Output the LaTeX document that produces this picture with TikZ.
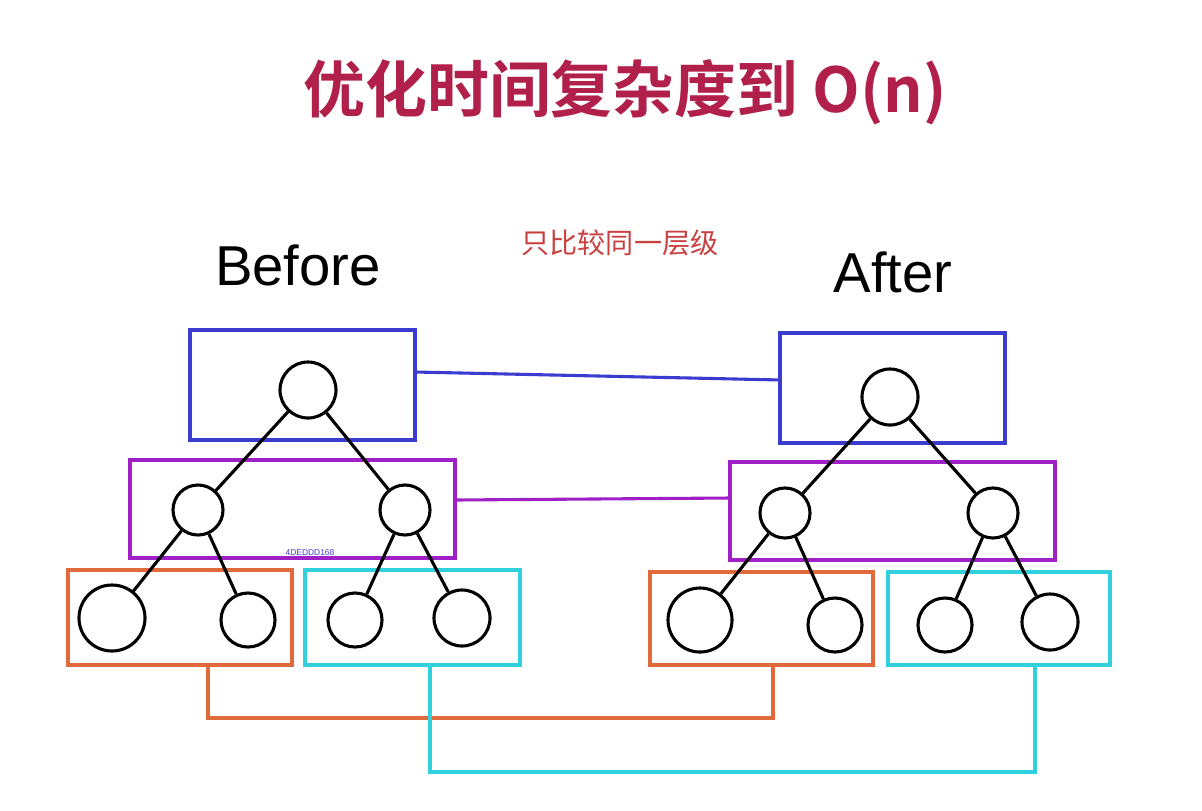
\documentclass[tikz,border=0pt]{standalone}
\usepackage{fontspec}
\setmainfont{Liberation Sans}
\newfontfamily\cjk{Noto Sans CJK SC}
\newfontfamily\cjkb{Noto Sans CJK SC Bold}
\begin{document}
\begin{tikzpicture}[x=0.025cm,y=-0.025cm,
  bx/.style={draw,line width=2.2pt,inner sep=0pt},
  cn/.style={draw,line width=2.2pt,circle,inner sep=0pt,minimum size=#1*0.05cm},
  ed/.style={line width=2.2pt},
  ln/.style={line width=2.2pt}]
\useasboundingbox (0,0) rectangle (1202,810);
\definecolor{cb}{HTML}{3B3BD0}\definecolor{cp}{HTML}{A020C8}
\definecolor{co}{HTML}{E06A3A}\definecolor{cc}{HTML}{30D0DC}
\node (title) at (625,92) {\cjkb\fontsize{44}{50}\selectfont\color[HTML]{B0204A}优化时间复杂度到 O(n)};
\node (sub) at (620,243) {\cjk\fontsize{20}{24}\selectfont\color[HTML]{C84040}只比较同一层级};
\node (before) at (298,265) {\fontsize{40}{44}\selectfont Before};
\node (after) at (893,272) {\fontsize{40}{44}\selectfont After};
\node (tag) at (310,553) {\fontsize{6}{7}\selectfont\color{cb}4DEDDD168};
% boxes
\draw[bx,cb] (190,330) rectangle (415,440);
\draw[bx,cp] (130,460) rectangle (455,558);
\draw[bx,co] (68,570) rectangle (292,665);
\draw[bx,cc] (305,570) rectangle (520,665);
\draw[bx,cb] (780,333) rectangle (1005,443);
\draw[bx,cp] (730,462) rectangle (1055,560);
\draw[bx,co] (650,572) rectangle (873,665);
\draw[bx,cc] (888,572) rectangle (1110,665);
\coordinate (b1) at (415,372); \coordinate (b2) at (781,380);
\coordinate (p1) at (455,500); \coordinate (p2) at (731,498);
\draw[ln,cb] (b1) -- (b2);
\draw[ln,cp] (p1) -- (p2);
\coordinate (o1) at (208,665); \coordinate (o2) at (773,665);
\coordinate (c1) at (430,665); \coordinate (c2) at (1035,665);
\draw[ln,co] (o1) |- (490,718) -| (o2);
\draw[ln,cc] (c1) |- (700,772) -| (c2);
% left tree
\node[cn=28] (r) at (308,390) {};
\node[cn=25] (l1) at (198,510) {};
\node[cn=25] (l2) at (405,510) {};
\node[cn=33] (g1) at (112,618) {};
\node[cn=27] (g2) at (248,620) {};
\node[cn=27] (g3) at (355,620) {};
\node[cn=28] (g4) at (462,618) {};
\draw[ed] (r)--(l1); \draw[ed] (r)--(l2);
\draw[ed] (l1)--(g1); \draw[ed] (l1)--(g2);
\draw[ed] (l2)--(g3); \draw[ed] (l2)--(g4);
% right tree
\node[cn=28] (R) at (890,397) {};
\node[cn=25] (L1) at (785,513) {};
\node[cn=25] (L2) at (993,513) {};
\node[cn=32] (G1) at (700,620) {};
\node[cn=27] (G2) at (835,625) {};
\node[cn=27] (G3) at (945,625) {};
\node[cn=28] (G4) at (1050,622) {};
\draw[ed] (R)--(L1); \draw[ed] (R)--(L2);
\draw[ed] (L1)--(G1); \draw[ed] (L1)--(G2);
\draw[ed] (L2)--(G3); \draw[ed] (L2)--(G4);
\end{tikzpicture}
\end{document}
